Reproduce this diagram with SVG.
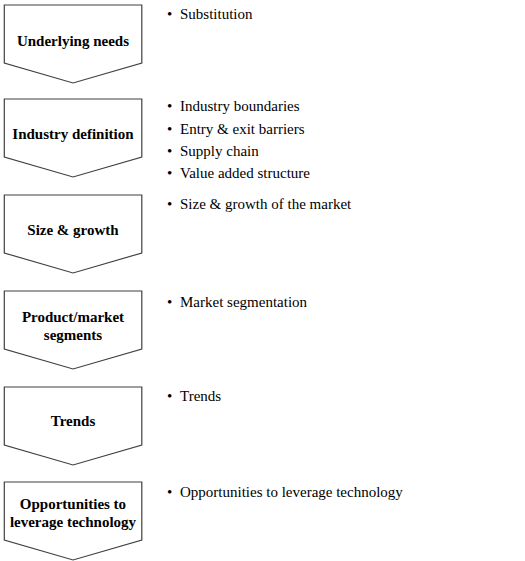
<svg xmlns="http://www.w3.org/2000/svg" width="525" height="561" viewBox="0 0 525 561">
<defs>
<style>
.shape{fill:#fff;stroke:#404040;stroke-width:1.2}
.lbl{font-family:"Liberation Serif",serif;font-weight:bold;font-size:15px;fill:#000;text-anchor:middle}
.bul{font-family:"Liberation Serif",serif;font-size:15px;fill:#000}
</style>
<path id="pent" d="M0,0 H137.5 V58 L68.75,78 L0,58 Z"/>
</defs>
<rect width="525" height="561" fill="#fff"/>
<g id="connectors"></g>
<g id="n1"><use href="#pent" class="shape" x="4.3" y="5"/><text class="lbl" x="73" y="46">Underlying needs</text></g>
<g id="n2"><use href="#pent" class="shape" x="4.3" y="99"/><text class="lbl" x="73" y="139">Industry definition</text></g>
<g id="n3"><use href="#pent" class="shape" x="4.3" y="195"/><text class="lbl" x="73" y="235">Size &amp; growth</text></g>
<g id="n4"><use href="#pent" class="shape" x="4.3" y="291"/><text class="lbl" x="73" y="322">Product/market</text><text class="lbl" x="73" y="340">segments</text></g>
<g id="n5"><use href="#pent" class="shape" x="4.3" y="387"/><text class="lbl" x="73" y="426">Trends</text></g>
<g id="n6"><use href="#pent" class="shape" x="4.3" y="482"/><text class="lbl" x="73" y="509">Opportunities to</text><text class="lbl" x="73" y="527">leverage technology</text></g>
<g id="bullets" class="bul">
<text x="167" y="19">•</text><text x="180" y="19">Substitution</text>
<text x="167" y="111">•</text><text x="180" y="111">Industry boundaries</text>
<text x="167" y="133.5">•</text><text x="180" y="133.5">Entry &amp; exit barriers</text>
<text x="167" y="156">•</text><text x="180" y="156">Supply chain</text>
<text x="167" y="178">•</text><text x="180" y="178">Value added structure</text>
<text x="167" y="209">•</text><text x="180" y="209">Size &amp; growth of the market</text>
<text x="167" y="306.5">•</text><text x="180" y="306.5">Market segmentation</text>
<text x="167" y="401">•</text><text x="180" y="401">Trends</text>
<text x="167" y="497">•</text><text x="180" y="497">Opportunities to leverage technology</text>
</g>
</svg>
